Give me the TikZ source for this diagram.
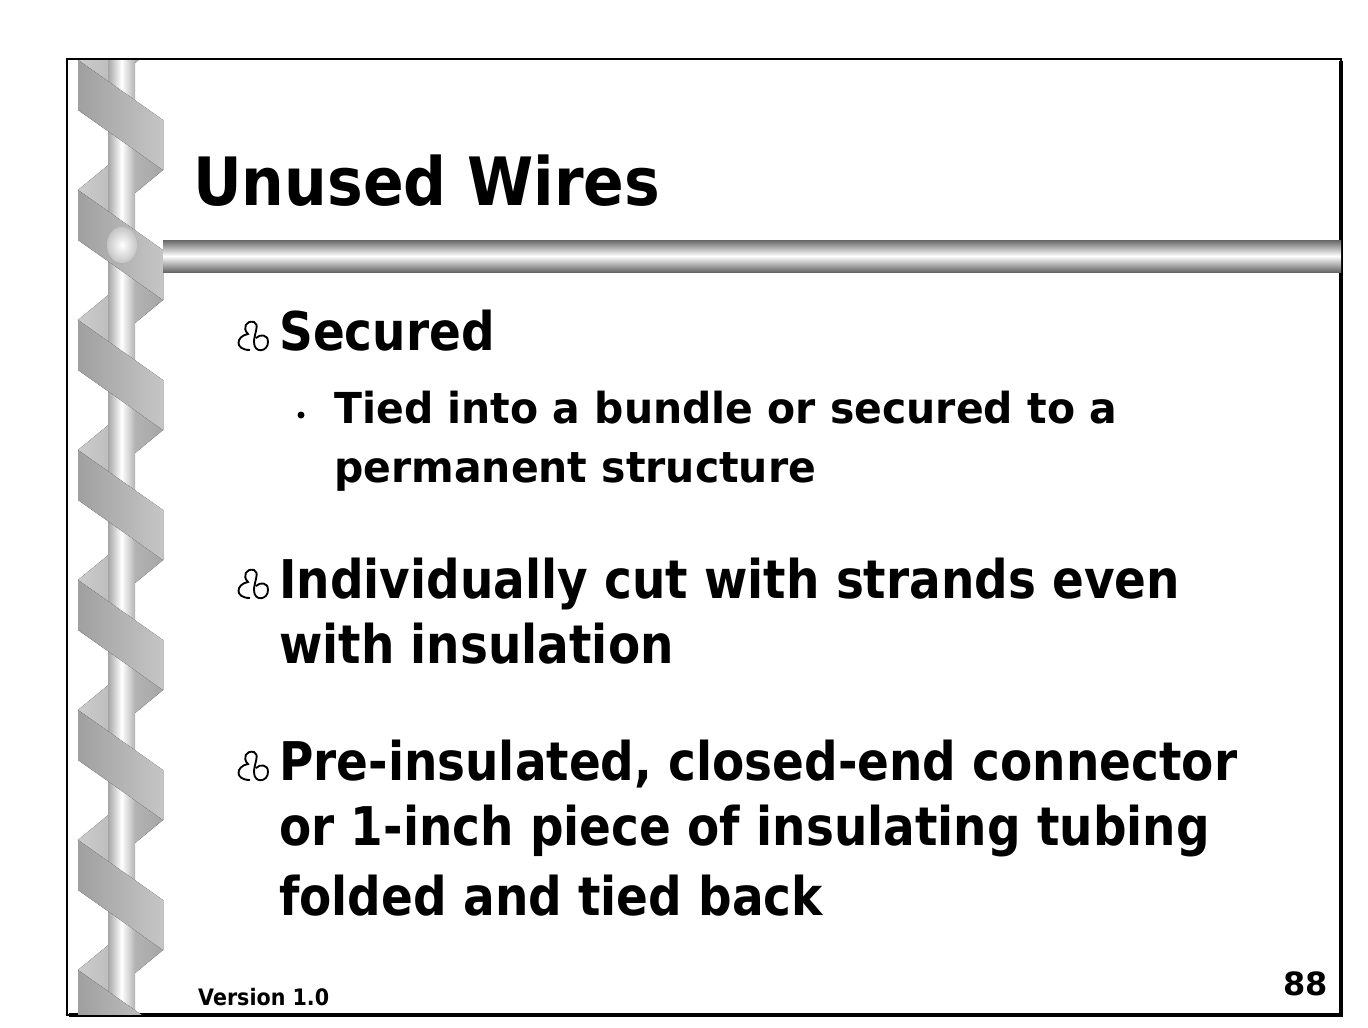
\documentclass[tikz,border=0pt]{standalone}
\usepackage{fontspec}
\setmainfont{DejaVu Sans}
\usetikzlibrary{calc}
\begin{document}
\begin{tikzpicture}[x=0.75pt,y=-0.75pt,
  txt/.style={anchor=base west,inner sep=0pt,font=\bfseries},
  lone/.style={txt,xscale=0.88,font=\bfseries\fontsize{40}{48}\selectfont},
  ltwo/.style={txt,xscale=0.96,font=\bfseries\fontsize{32}{37}\selectfont},
  frontband/.style={left color=gray!75,right color=gray!45,draw=none},
  backband/.style={left color=gray!40,right color=gray!70,draw=none}]
\useasboundingbox (0,0) rectangle (1368,1028);
\fill[white] (0,0) rectangle (1368,1028);
\fill[black] (69,1013) rectangle (1343,1017);
\fill[black] (1339,61) rectangle (1343,1017);
\draw[line width=1.5pt] (67,59) rectangle (1341,1015);
\begin{scope}
\clip (68,60) rectangle (1340,1014);
\foreach \y in {-70,60,...,1000} {
  \fill[backband] (163,\y+60) -- (163,\y+110) -- (78,\y+180) -- (78,\y+130) -- cycle;
}
\fill[left color=gray!70,right color=gray!60,middle color=white] (108,60) rectangle (135,1014);
\foreach \y in {-70,60,...,1000} {
  \fill[frontband] (78,\y) -- (163,\y+60) -- (163,\y+110) -- (78,\y+50) -- cycle;
}
\end{scope}
\fill[top color=gray!80!black,bottom color=gray!80!black,middle color=white] (163,240) rectangle (1341,272);
\shade[inner color=white,outer color=gray!45] (122,245) ellipse (15 and 18);
\node[txt,xscale=0.9,font=\bfseries\fontsize{50}{60}\selectfont] (title) at (193,205) {Unused Wires};
\foreach \n/\y in {b1/352,b2/600,b3/782}{
  \coordinate (\n) at (240,\y);
  \draw[line width=1.4pt] ($(\n)+(10,-2)$) .. controls ($(\n)+(-6,-2)$) and ($(\n)+(-4,-16)$) .. ($(\n)+(8,-18)$)
     .. controls ($(\n)+(2,-24)$) and ($(\n)+(6,-32)$) .. ($(\n)+(14,-30)$)
     .. controls ($(\n)+(20,-28)$) and ($(\n)+(14,-18)$) .. ($(\n)+(14,-10)$)
     .. controls ($(\n)+(14,2)$) and ($(\n)+(28,0)$) .. ($(\n)+(28,-10)$)
     .. controls ($(\n)+(28,-18)$) and ($(\n)+(20,-18)$) .. ($(\n)+(16,-14)$);
}
\node[lone] (l1) at (279,350) {Secured};
\fill (301,415) circle (3.5) coordinate (sb);
\node[ltwo] (s1) at (334,423) {Tied into a bundle or secured to a};
\node[ltwo] (s2) at (334,482) {permanent structure};
\node[lone] (l2a) at (279,598) {Individually cut with strands even};
\node[lone] (l2b) at (279,663) {with insulation};
\node[lone] (l3a) at (279,780) {Pre-insulated, closed-end connector};
\node[lone] (l3b) at (279,845) {or 1-inch piece of insulating tubing};
\node[lone] (l3c) at (279,915) {folded and tied back};
\node[txt,xscale=0.91,font=\bfseries\fontsize{17}{20}\selectfont] (ver) at (198,1005) {Version 1.0};
\node[txt,anchor=base east,font=\bfseries\fontsize{24}{28}\selectfont] (pg) at (1328,995) {88};
\end{tikzpicture}
\end{document}
